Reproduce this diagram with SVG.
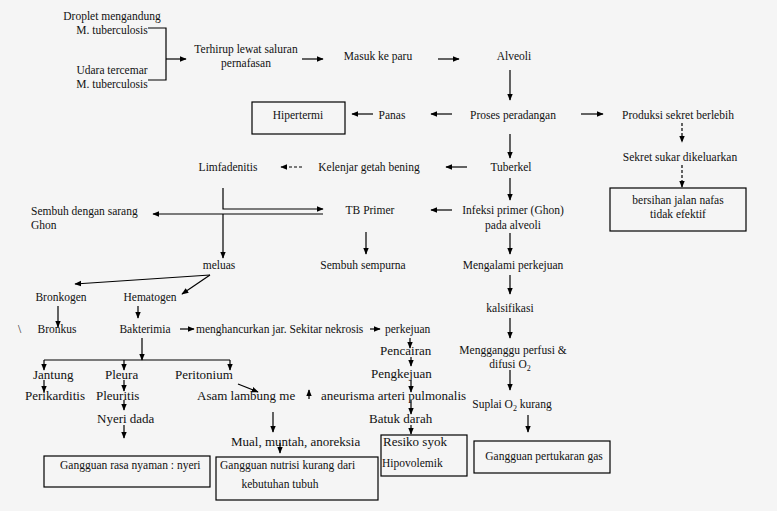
<svg xmlns="http://www.w3.org/2000/svg" width="777" height="511" viewBox="0 0 777 511">
<defs>
<marker id="ah" viewBox="0 0 10 10" refX="9" refY="5" markerWidth="7" markerHeight="7" orient="auto" markerUnits="userSpaceOnUse"><path d="M0,1 L10,5 L0,9 Z" fill="#000"/></marker>
</defs>
<style>
text{font-family:"Liberation Serif","Times New Roman",serif;font-size:11.5px;fill:#111}
.c{text-anchor:middle}
.b{font-size:13px}
.l{stroke:#000;stroke-width:1.2;fill:none}
.a{stroke:#000;stroke-width:1.2;fill:none;marker-end:url(#ah)}
.d{stroke:#000;stroke-width:1.2;fill:none;marker-end:url(#ah);stroke-dasharray:3 2}
.bx{fill:none;stroke:#000;stroke-width:1.2}
</style>
<rect width="777" height="511" fill="#f5f5f5"/>
<g id="connectors">
<path class="l" d="M148,28 H166 V80 H148"/>
<path class="a" d="M166,59 H186"/>
<path class="a" d="M302,59 H323"/>
<path class="a" d="M438,59 H459"/>
<path class="a" d="M510,70 V100"/>
<path class="a" d="M452,114 H431"/>
<path class="a" d="M373,114 H352"/>
<path class="a" d="M581,114 H603"/>
<path class="d" d="M682,123 V142"/>
<path class="d" d="M682,165 V187"/>
<path class="a" d="M510,134 V158"/>
<path class="a" d="M467,167 H446"/>
<path class="d" d="M302,167 H281"/>
<path class="a" d="M510,178 V200"/>
<path class="a" d="M452,210 H431"/>
<path class="a" d="M223,188 V209 H323"/>
<path class="a" d="M323,214 H153"/>
<path class="a" d="M223,214 V258"/>
<path class="a" d="M366,232 V254"/>
<path class="a" d="M510,233 V254"/>
<path class="a" d="M510,275 V294"/>
<path class="a" d="M510,318 V338"/>
<path class="a" d="M510,370 V390"/>
<path class="a" d="M528,415 V432"/>
<path class="a" d="M210,275 L75,284"/>
<path class="a" d="M210,275 L182,294"/>
<path class="a" d="M58,306 V327"/>
<path class="a" d="M138,306 V318"/>
<path class="a" d="M180,329 H194"/>
<path class="a" d="M370,329 H380"/>
<path class="a" d="M142,338 V360"/>
<path class="l" d="M44,360 H230"/>
<path class="a" d="M44,360 V370"/>
<path class="a" d="M124,360 V370"/>
<path class="a" d="M230,360 V370"/>
<path class="a" d="M44,380 V392"/>
<path class="a" d="M124,380 V391"/>
<path class="a" d="M124,400 V410"/>
<path class="a" d="M124,425 V438"/>
<path class="a" d="M238,384 L258,392"/>
<path class="a" d="M309,399 V390"/>
<path class="a" d="M273,412 V432"/>
<path class="a" d="M280,443 V453"/>
<path class="a" d="M410,338 V348"/>
<path class="a" d="M411,357 V366"/>
<path class="a" d="M411,380 V392"/>
<path class="a" d="M411,400 V414"/>
<path class="a" d="M411,425 V434"/>
</g>
<g id="n-droplet"><text class="c" x="112" y="20">Droplet mengandung</text><text class="c" x="112" y="34">M. tuberculosis</text></g>
<g id="n-udara"><text class="c" x="112" y="74">Udara tercemar</text><text class="c" x="112" y="88">M. tuberculosis</text></g>
<g id="n-terhirup"><text class="c" x="246" y="53">Terhirup lewat saluran</text><text class="c" x="246" y="67">pernafasan</text></g>
<g id="n-masuk"><text class="c" x="378" y="60">Masuk ke paru</text></g>
<g id="n-alveoli"><text class="c" x="514" y="60">Alveoli</text></g>
<g id="n-proses"><text class="c" x="513" y="119">Proses peradangan</text></g>
<g id="n-panas"><text class="c" x="392" y="119">Panas</text></g>
<g id="n-hipertermi"><rect class="bx" x="252" y="102" width="93" height="32"/><text class="c" x="298" y="119">Hipertermi</text></g>
<g id="n-produksi"><text class="c" x="678" y="119">Produksi sekret berlebih</text></g>
<g id="n-sekret"><text class="c" x="680" y="161">Sekret sukar dikeluarkan</text></g>
<g id="n-bersihan"><rect class="bx" x="610" y="188" width="136" height="43"/><text class="c" x="678" y="204">bersihan jalan nafas</text><text class="c" x="678" y="218">tidak efektif</text></g>
<g id="n-tuberkel"><text class="c" x="511" y="171">Tuberkel</text></g>
<g id="n-kelenjar"><text class="c" x="369" y="171">Kelenjar getah bening</text></g>
<g id="n-limfadenitis"><text class="c" x="228" y="171">Limfadenitis</text></g>
<g id="n-infeksi"><text class="c" x="513" y="214">Infeksi primer (Ghon)</text><text class="c" x="513" y="229">pada alveoli</text></g>
<g id="n-tbprimer"><text class="c" x="370" y="214">TB Primer</text></g>
<g id="n-sembuhghon"><text x="31" y="215">Sembuh dengan sarang</text><text x="31" y="229">Ghon</text></g>
<g id="n-sembuh"><text class="c" x="363" y="269">Sembuh sempurna</text></g>
<g id="n-meluas"><text class="c" x="219" y="269">meluas</text></g>
<g id="n-mengalami"><text class="c" x="513" y="269">Mengalami perkejuan</text></g>
<g id="n-kalsifikasi"><text class="c" x="510" y="312">kalsifikasi</text></g>
<g id="n-mengganggu"><text class="c" x="513" y="354">Mengganggu perfusi &amp;</text><text class="c" x="510" y="368">difusi O<tspan font-size="8" dy="3">2</tspan></text></g>
<g id="n-suplai"><text class="c" x="512" y="408">Suplai O<tspan font-size="8" dy="3">2</tspan><tspan dy="-3"> kurang</tspan></text></g>
<g id="n-pertukaran"><rect class="bx" x="474" y="441" width="136" height="32"/><text class="c" x="544" y="460">Gangguan pertukaran gas</text></g>
<g id="n-bronkogen"><text class="c" x="61" y="301">Bronkogen</text></g>
<g id="n-hematogen"><text class="c" x="150" y="301">Hematogen</text></g>
<g id="n-bronkus"><text x="18" y="333">\</text><text class="c" x="57" y="333">Bronkus</text></g>
<g id="n-bakterimia"><text class="c" x="145" y="333">Bakterimia</text></g>
<g id="n-menghancurkan"><text x="196" y="333">menghancurkan jar. Sekitar nekrosis</text></g>
<g id="n-perkejuan"><text x="385" y="333">perkejuan</text></g>
<g id="n-jantung"><text class="b" x="33" y="379">Jantung</text></g>
<g id="n-pleura"><text class="b" x="105" y="379">Pleura</text></g>
<g id="n-peritonium"><text class="b" x="175" y="379">Peritonium</text></g>
<g id="n-perikarditis"><text class="b" x="25" y="400">Perikarditis</text></g>
<g id="n-pleuritis"><text class="b" x="96" y="400">Pleuritis</text></g>
<g id="n-nyeri"><text class="b" x="97" y="423">Nyeri  dada</text></g>
<g id="n-asam"><text class="b" x="197" y="400">Asam lambung me</text></g>
<g id="n-aneurisma"><text class="b" x="321" y="400">aneurisma arteri pulmonalis</text></g>
<g id="n-pencairan"><text class="b" x="380" y="355">Pencairan</text></g>
<g id="n-pengkejuan"><text class="b" x="371" y="378">Pengkejuan</text></g>
<g id="n-batuk"><text class="b" x="369" y="423">Batuk darah</text></g>
<g id="n-mual"><text class="b" x="231" y="446">Mual, muntah, anoreksia</text></g>
<g id="n-nyaman"><rect class="bx" x="44" y="456" width="166" height="31"/><text x="60" y="469">Gangguan rasa nyaman : nyeri</text></g>
<g id="n-nutrisi"><rect class="bx" x="216" y="457" width="162" height="43"/><text x="220" y="469">Gangguan nutrisi kurang dari</text><text class="c" x="280" y="488">kebutuhan tubuh</text></g>
<g id="n-syok"><rect class="bx" x="381" y="435" width="86" height="41"/><text class="b" x="383" y="446">Resiko syok</text><text x="382" y="467">Hipovolemik</text></g>
</svg>
